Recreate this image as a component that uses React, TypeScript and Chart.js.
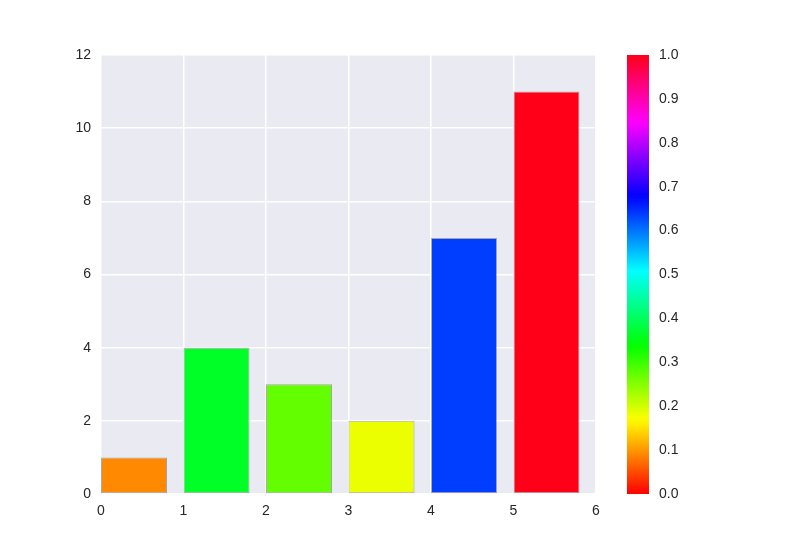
import React, { useEffect, useRef } from "react";
import { Chart, registerables } from "chart.js";

Chart.register(...registerables);

// Data
const categories = [0, 1, 2, 3, 4, 5];
const values = [1, 4, 3, 2, 7, 11];
const barColors = ["#ff8900", "#00ff26", "#63ff00", "#ecff00", "#003eff", "#ff0018"];
const yTicks = [0, 2, 4, 6, 8, 10, 12];
const xTicks = [0, 1, 2, 3, 4, 5, 6];
const colorbarTicks = [0, 0.1, 0.2, 0.3, 0.4, 0.5, 0.6, 0.7, 0.8, 0.9, 1.0];
const BAR_WIDTH = 0.8;

// hsv colormap stops (matplotlib)
const hsvStops: [number, string][] = [
  [0, "rgb(255,0,0)"],
  [0.15873, "rgb(255,239,0)"],
  [0.174603, "rgb(247,255,0)"],
  [0.333333, "rgb(8,255,0)"],
  [0.349206, "rgb(0,255,16)"],
  [0.507937, "rgb(0,255,255)"],
  [0.666667, "rgb(0,16,255)"],
  [0.68254, "rgb(8,0,255)"],
  [0.84127, "rgb(247,0,255)"],
  [0.857143, "rgb(255,0,239)"],
  [1, "rgb(255,0,24)"],
];

const FONT = { family: "'Liberation Sans', Arial, sans-serif", size: 14 };
const TICK_COLOR = "#262626";

const bgPlugin = {
  id: "bgPlugin",
  beforeDraw(chart: any) {
    const { ctx, chartArea } = chart;
    if (!chartArea) return;
    ctx.save();
    ctx.fillStyle = "#eaeaf2";
    ctx.fillRect(chartArea.left, chartArea.top, chartArea.right - chartArea.left, chartArea.bottom - chartArea.top);
    ctx.restore();
  },
};

export default function App() {
  const mainRef = useRef<HTMLCanvasElement>(null);
  const cbRef = useRef<HTMLCanvasElement>(null);

  useEffect(() => {
    const main = new Chart(mainRef.current!, {
      type: "bar",
      data: {
        datasets: [
          {
            data: categories.map((c, i) => ({ x: c + BAR_WIDTH / 2, y: values[i] })),
            backgroundColor: barColors,
            borderColor: "rgba(0,0,0,0.3)",
            borderWidth: 1,
            borderSkipped: false,
            categoryPercentage: 1,
            barPercentage: BAR_WIDTH,
          },
        ],
      },
      options: {
        responsive: false,
        animation: false,
        layout: { padding: { top: 55, right: 204, left: 0, bottom: 0 } },
        plugins: { legend: { display: false }, tooltip: { enabled: false } },
        scales: {
          x: {
            type: "linear",
            offset: false,
            min: 0,
            max: 6,
            afterBuildTicks: (s: any) => {
              s.ticks = xTicks.map((v) => ({ value: v }));
            },
            afterFit: (s: any) => {
              s.height = 56;
            },
            grid: { color: "#ffffff", lineWidth: 1.5, drawTicks: false, offset: false },
            border: { display: false },
            ticks: { color: TICK_COLOR, font: FONT, padding: 9, maxRotation: 0 },
          },
          y: {
            type: "linear",
            min: 0,
            max: 12,
            afterBuildTicks: (s: any) => {
              s.ticks = yTicks.map((v) => ({ value: v }));
            },
            afterFit: (s: any) => {
              s.width = 101;
            },
            grid: { color: "#ffffff", lineWidth: 1.5, drawTicks: false },
            border: { display: false },
            ticks: { color: TICK_COLOR, font: FONT, padding: 10 },
          },
        },
      },
      plugins: [bgPlugin],
    });

    const cb = new Chart(cbRef.current!, {
      type: "bar",
      data: {
        labels: ["cb"],
        datasets: [
          {
            data: [[colorbarTicks[0], colorbarTicks[colorbarTicks.length - 1]]],
            backgroundColor: (ctx: any) => {
              const ca = ctx.chart.chartArea;
              if (!ca) return "#ff0000";
              const g = ctx.chart.ctx.createLinearGradient(0, ca.bottom, 0, ca.top);
              hsvStops.forEach(([p, c]) => g.addColorStop(p, c));
              return g;
            },
            borderWidth: 0,
            categoryPercentage: 1,
            barPercentage: 1,
          },
        ],
      },
      options: {
        responsive: false,
        animation: false,
        layout: { padding: { top: 55, left: 627, right: 0, bottom: 56 } },
        plugins: { legend: { display: false }, tooltip: { enabled: false } },
        scales: {
          x: { display: false },
          y: {
            position: "right",
            min: 0,
            max: 1,
            afterBuildTicks: (s: any) => {
              s.ticks = colorbarTicks.map((v) => ({ value: v }));
            },
            afterFit: (s: any) => {
              s.width = 151;
            },
            grid: { display: false, drawTicks: false },
            border: { display: false },
            ticks: {
              color: TICK_COLOR,
              font: FONT,
              padding: 10,
              callback: (v: any) => Number(v).toFixed(1),
            },
          },
        },
      },
    });

    return () => {
      main.destroy();
      cb.destroy();
    };
  }, []);

  return (
    <div style={{ position: "fixed", left: 0, top: 0, width: 800, height: 550, background: "#ffffff" }}>
      <canvas ref={mainRef} width={800} height={550} style={{ position: "absolute", left: 0, top: 0 }} />
      <canvas
        ref={cbRef}
        width={800}
        height={550}
        style={{ position: "absolute", left: 0, top: 0, pointerEvents: "none" }}
      />
    </div>
  );
}
